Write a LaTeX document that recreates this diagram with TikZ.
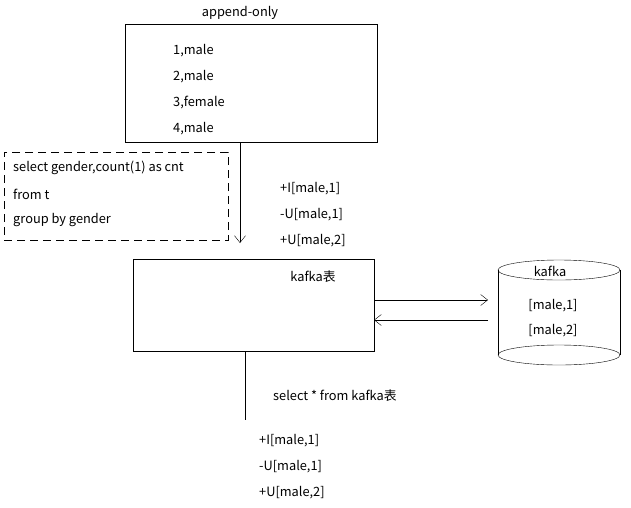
\documentclass[tikz,border=0pt]{standalone}
\usepackage{fontspec}
\setmainfont{Noto Sans CJK SC}
\usetikzlibrary{arrows.meta}
\begin{document}
\begin{tikzpicture}[x=1pt,y=-1pt,
  t/.style={font=\fontsize{12.8pt}{14pt}\selectfont,anchor=west,inner sep=0pt},
  arr/.style={-{Straight Barb[length=7pt,width=11pt]},thin}]
\useasboundingbox (0,0) rectangle (631,507);
\node[t,anchor=center] (ao) at (240,13) {append-only};
\node[draw,anchor=north west,minimum width=252pt,minimum height=118pt,inner sep=0pt] (src) at (125,24) {};
\node[t] (s1) at (173,51) {1,male};
\node[t] (s2) at (173,77) {2,male};
\node[t] (s3) at (173,103) {3,female};
\node[t] (s4) at (173,129) {4,male};
\node[draw,dashed,dash pattern=on 8pt off 5pt,anchor=north west,minimum width=224pt,minimum height=88pt,inner sep=0pt] (q) at (4,152) {};
\node[t] (q1) at (13,168) {select gender,count(1) as cnt};
\node[t] (q2) at (13,194) {from t};
\node[t] (q3) at (13,220) {group by gender};
\coordinate (a1) at (240,142);
\coordinate (a2) at (240,243);
\draw[arr] (a1) -- (a2);
\node[t] (c1) at (280,189) {+I[male,1]};
\node[t] (c2) at (280,215) {-U[male,1]};
\node[t] (c3) at (280,241) {+U[male,2]};
\node[draw,anchor=north west,minimum width=241pt,minimum height=92pt,inner sep=0pt] (k) at (133,259) {};
\node[t,anchor=center] (kl) at (313,277) {kafka表};
\coordinate (r1) at (374,300); \coordinate (r2) at (488,300);
\coordinate (l1) at (488,320); \coordinate (l2) at (374,320);
\draw[arr] (r1) -- (r2);
\draw[arr] (l1) -- (l2);
\draw (559,270) ellipse (61 and 10);
\draw (559,355) ellipse (61 and 10);
\draw (498,270) -- (498,355);
\draw (620,270) -- (620,355);
\node[t,anchor=center] (cy0) at (550,271) {kafka};
\node[t,anchor=center] (cy1) at (553,306) {[male,1]};
\node[t,anchor=center] (cy2) at (553,331) {[male,2]};
\coordinate (d1) at (245,351); \coordinate (d2) at (245,420);
\draw (d1) -- (d2);
\node[t] (sel) at (273,396) {select * from kafka表};
\node[t] (b1) at (259,441) {+I[male,1]};
\node[t] (b2) at (259,467) {-U[male,1]};
\node[t] (b3) at (259,493) {+U[male,2]};
\end{tikzpicture}
\end{document}
